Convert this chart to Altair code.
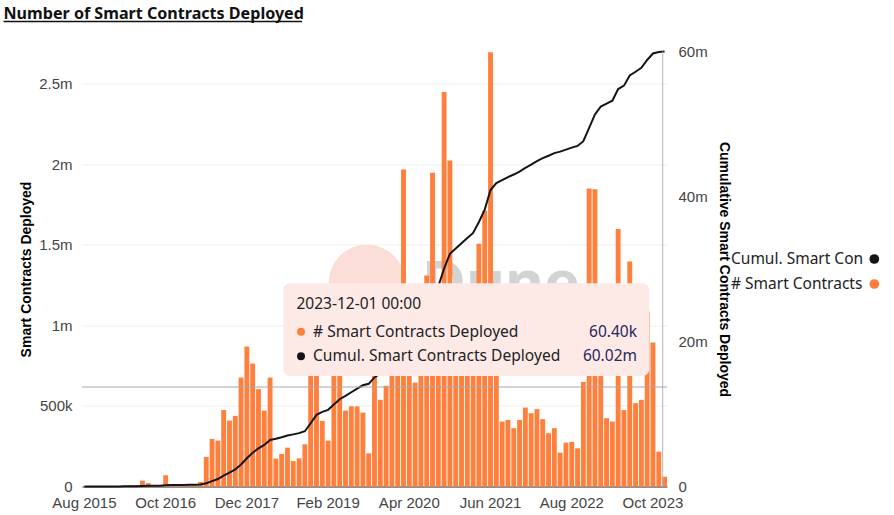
import altair as alt
import pandas as pd

# Monthly categories, Aug 2015 .. Dec 2023
months = pd.date_range("2015-08-01", "2023-12-01", freq="MS").strftime("%b %Y").tolist()

# Smart contracts deployed per month
contracts = [
    1200, 1800, 1600, 1500, 1900, 2400, 3600, 5200, 6800, 9500,          # Aug 2015 - May 2016
    36000, 21000, 9000, 8000, 70000, 12000, 13000, 12000, 13000, 14000,  # Jun 2016 - Mar 2017
    28000, 183000, 295000, 285000, 475000, 409000, 438000, 676000, 869000, 763000,  # Apr 2017 - Jan 2018
    604000, 471000, 676000, 173000, 202000, 241000, 158000, 175000, 262000, 1100000,  # Feb 2018 - Nov 2018
    1160000, 407000, 285000, 720000, 740000, 471000, 498000, 497000, 459000, 206000,  # Dec 2018 - Sep 2019
    880000, 538000, 625000, 1000000, 1100000, 1967000, 1150000, 645000, 1100000, 1310000,  # Oct 2019 - Jul 2020
    1947000, 1200000, 2448000, 2023000, 720000, 750000, 700000, 720000, 1507000, 1712000,  # Aug 2020 - May 2021
    2696000, 960000, 403000, 413000, 362000, 413000, 490000, 455000, 480000, 418000,  # Jun 2021 - Mar 2022
    331000, 362000, 210000, 272000, 277000, 237000, 649000, 1849000, 1845000, 1078000,  # Apr 2022 - Jan 2023
    424000, 403000, 1598000, 475000, 1397000, 517000, 538000, 1086000, 894000, 216000,  # Feb 2023 - Nov 2023
    60400,                                                                # Dec 2023
]

tick_months = ["Aug 2015", "Oct 2016", "Dec 2017", "Feb 2019", "Apr 2020",
               "Jun 2021", "Aug 2022", "Oct 2023"]
left_ticks = [0, 500000, 1000000, 1500000, 2000000, 2500000]
right_ticks = [0, 20000000, 40000000, 60000000]

title_text = "Number of Smart Contracts Deployed"
series_names = ["# Smart Contracts Deployed", "Cumul. Smart Contracts Deployed"]
legend_names = ["Cumul. Smart Con", "# Smart Contracts"]
hover_date = "2023-12-01 00:00"
hover_values = ["60.40k", "60.02m"]

ORANGE = "#FF7F3C"
BLACK = "#141414"
LABEL_FONT = "Liberation Sans"
UI_FONT = "Noto Sans"

# plot area geometry inside the 894x515 canvas
W, H = 585, 435
PAD_L, PAD_T = 82, 51.5


def px(x):
    return x - PAD_L


def py(y):
    return y - PAD_T


df = pd.DataFrame({"idx": list(range(len(months))), "month": months, "contracts": contracts})
one = pd.DataFrame({"k": [0]})

x_enc = alt.X(
    "month:O",
    sort=months,
    scale=alt.Scale(paddingInner=0.16, paddingOuter=0.0),
    axis=alt.Axis(
        values=tick_months, labelAngle=0, title=None, ticks=False, tickSize=0,
        domain=True, domainColor="#2a2a2a", domainWidth=1, labelPadding=9,
        grid=False,
    ),
)

base = alt.Chart(df)

bars = base.mark_bar(color=ORANGE).encode(
    x=x_enc,
    y=alt.Y(
        "contracts:Q",
        scale=alt.Scale(domain=[0, 2700000], nice=False, zero=True),
        axis=alt.Axis(
            values=left_ticks,
            labelExpr="datum.value == 0 ? '0' : (datum.value < 1000000 ? format(datum.value / 1000, 'd') + 'k' : format(datum.value / 1000000, '~g') + 'm')",
            title="Smart Contracts Deployed",
            titleX=px(26.5), titleY=H / 2, titleBaseline="middle",
            grid=True, gridColor="#efefef", gridWidth=1,
            ticks=False, tickSize=0, domain=False, labelPadding=10,
        ),
    ),
)

line = base.transform_window(
    cumul="sum(contracts)", sort=[alt.SortField("idx")], frame=[None, 0]
).mark_line(color=BLACK, strokeWidth=2).encode(
    x=alt.X("month:O", sort=months),
    y=alt.Y(
        "cumul:Q",
        scale=alt.Scale(domain=[0, 60020000], nice=False, zero=True),
        axis=alt.Axis(
            orient="right",
            values=right_ticks,
            labelExpr="datum.value == 0 ? '0' : format(datum.value / 1000000, '~g') + 'm'",
            title="Cumulative Smart Contracts Deployed",
            titleX=723.5 - (PAD_L + W), titleY=H / 2, titleBaseline="middle",
            grid=False, ticks=False, tickSize=0, domain=False, labelPadding=11,
        ),
    ),
)

# faint watermark behind the data
wm_circle = alt.Chart(one).mark_circle(color="#fbded8", opacity=1, size=5900).encode(
    x=alt.value(px(367)), y=alt.value(py(283))
)
wm_text = alt.Chart(one).mark_text(
    text="Dune", font=UI_FONT, fontSize=60, fontWeight="bold", color="#c9c9c9",
    align="left", baseline="alphabetic", opacity=0.8,
).encode(x=alt.value(px(422)), y=alt.value(py(303)))

# hover crosshair
cross_v = alt.Chart(one).mark_rule(color="#b4b4b4", strokeWidth=1).encode(
    x=alt.value(px(662.7)), y=alt.value(0), y2=alt.value(H)
)
cross_h = alt.Chart(one).mark_rule(color="#a8a8a8", strokeWidth=1).encode(
    x=alt.value(0), x2=alt.value(W), y=alt.value(py(387))
)

# hover tooltip card
tip_box = alt.Chart(one).mark_rect(color="#fdeae7", cornerRadius=7).encode(
    x=alt.value(px(283.3)), x2=alt.value(px(649.3)),
    y=alt.value(py(283.3)), y2=alt.value(py(376)),
)
tip_head = alt.Chart(one).mark_text(
    text=hover_date, font=UI_FONT, fontSize=15.5, color="#222222",
    align="left", baseline="middle",
).encode(x=alt.value(px(296.5)), y=alt.value(py(303.5)))

tip_rows = pd.DataFrame({
    "name": series_names,
    "value": hover_values,
    "colour": [ORANGE, BLACK],
    "ypix": [py(331.8), py(356.2)],
})
tip_dots = alt.Chart(tip_rows).mark_circle(size=64, opacity=1).encode(
    x=alt.value(px(301)),
    y=alt.Y("ypix:Q", scale=None),
    color=alt.Color("colour:N", scale=None),
)
tip_names = alt.Chart(tip_rows).mark_text(
    font=UI_FONT, fontSize=15.6, color="#222222", align="left", baseline="middle",
).encode(x=alt.value(px(313)), y=alt.Y("ypix:Q", scale=None), text="name:N")
tip_vals = alt.Chart(tip_rows).mark_text(
    font=UI_FONT, fontSize=15.5, color="#262660", align="right", baseline="middle",
).encode(x=alt.value(px(637)), y=alt.Y("ypix:Q", scale=None), text="value:N")

# legend at the right
leg_rows = pd.DataFrame({
    "name": legend_names,
    "colour": [BLACK, ORANGE],
    "ypix": [py(259), py(284)],
})
leg_text = alt.Chart(leg_rows).mark_text(
    font=UI_FONT, fontSize=15.5, color="#222222", align="left", baseline="middle",
).encode(x=alt.value(px(731)), y=alt.Y("ypix:Q", scale=None), text="name:N")
leg_dots = alt.Chart(leg_rows).mark_circle(size=95, opacity=1).encode(
    x=alt.value(px(874.3)),
    y=alt.Y("ypix:Q", scale=None),
    color=alt.Color("colour:N", scale=None),
)

# underlined title
title_mark = alt.Chart(one).mark_text(
    text=title_text, font=UI_FONT, fontSize=16.1, fontWeight="bold", color="#111111",
    align="left", baseline="alphabetic",
).encode(x=alt.value(px(3.5)), y=alt.value(py(18.5)))
title_rule = alt.Chart(one).mark_rule(color="#111111", strokeWidth=1.4).encode(
    x=alt.value(px(3.5)), x2=alt.value(px(302)), y=alt.value(py(21.5))
)

data_layers = alt.layer(bars, line).resolve_scale(y="independent")

chart = alt.layer(
    wm_circle, wm_text, data_layers, cross_v, cross_h,
    tip_box, tip_head, tip_dots, tip_names, tip_vals,
    leg_text, leg_dots, title_mark, title_rule,
).resolve_scale(y="independent").properties(
    width=W, height=H,
    autosize=alt.AutoSizeParams(type="none"),
    padding={"left": PAD_L, "top": PAD_T, "right": 894 - PAD_L - W, "bottom": 515 - PAD_T - H},
    background="white",
).configure_view(stroke=None).configure_axis(
    labelFont=LABEL_FONT, labelFontSize=15, labelColor="#444444",
    titleFont=LABEL_FONT, titleFontSize=14, titleFontWeight="bold", titleColor="#000000",
)

chart.save("out.html", embed_options={"renderer": "svg", "actions": False})
